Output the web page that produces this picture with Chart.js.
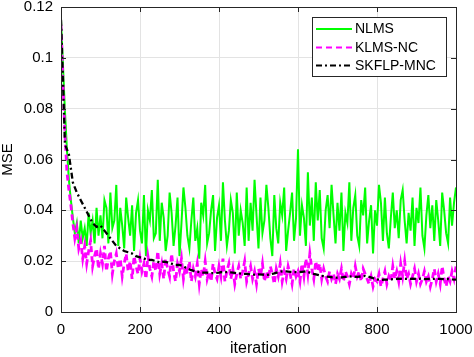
<!DOCTYPE html>
<html><head><meta charset="utf-8">
<script src="https://cdn.jsdelivr.net/npm/chart.js@4"></script>
<style>html,body{margin:0;padding:0;background:#fff}#wrap{width:474px;height:357px;position:relative}</style>
</head><body><div id="wrap"><canvas id="c" width="474" height="357"></canvas></div>
<script>
const seriesNames = ['NLMS', 'KLMS-NC', 'SKFLP-MNC'];
const xTickValues = [0, 200, 400, 600, 800, 1000];
const yTickLabels = ['0', '0.02', '0.04', '0.06', '0.08', '0.1', '0.12'];
const stepNLMS = 5, stepKLMS = 5, stepSKFLP = 10;

const nlms = [
0.115,0.097,0.079,0.064,0.052,0.044,0.037,0.031,0.035,0.027,
0.036,0.029,0.033,0.026,0.039,0.031,0.036,0.027,0.041,0.030,
0.038,0.029,0.044,0.041,0.027,0.047,0.033,0.036,0.050,0.026,
0.041,0.034,0.025,0.045,0.037,0.030,0.042,0.024,0.039,0.044,
0.032,0.027,0.046,0.022,0.040,0.036,0.048,0.029,0.031,0.052,
0.028,0.043,0.037,0.024,0.030,0.047,0.039,0.026,0.034,0.045,
0.022,0.035,0.049,0.041,0.030,0.025,0.036,0.045,0.028,0.033,
0.021,0.043,0.038,0.050,0.027,0.031,0.040,0.046,0.024,0.037,
0.042,0.028,0.051,0.036,0.026,0.032,0.044,0.039,0.023,0.047,
0.030,0.040,0.035,0.026,0.049,0.028,0.043,0.032,0.052,0.038,
0.025,0.045,0.031,0.036,0.050,0.041,0.029,0.022,0.046,0.033,
0.027,0.043,0.038,0.049,0.024,0.032,0.039,0.047,0.028,0.037,
0.064,0.030,0.042,0.037,0.026,0.055,0.034,0.045,0.028,0.051,
0.036,0.048,0.029,0.025,0.040,0.046,0.033,0.050,0.038,0.027,
0.043,0.032,0.047,0.024,0.039,0.035,0.051,0.028,0.041,0.046,
0.030,0.026,0.044,0.038,0.049,0.027,0.036,0.042,0.023,0.040,
0.034,0.050,0.043,0.028,0.045,0.031,0.025,0.037,0.047,0.033,
0.040,0.029,0.044,0.048,0.036,0.027,0.039,0.032,0.045,0.026,
0.041,0.035,0.049,0.030,0.025,0.038,0.046,0.033,0.042,0.028,
0.044,0.036,0.026,0.047,0.040,0.031,0.027,0.045,0.034,0.043,
0.049];

const klmsNC = [
0.113,0.090,0.070,0.055,0.048,0.042,0.035,0.029,0.033,0.025,
0.028,0.021,0.026,0.019,0.024,0.028,0.018,0.022,0.025,0.017,
0.023,0.019,0.026,0.016,0.021,0.024,0.015,0.020,0.023,0.017,
0.021,0.014,0.019,0.023,0.016,0.020,0.013,0.022,0.018,0.015,
0.021,0.016,0.019,0.013,0.022,0.017,0.014,0.020,0.016,0.024,
0.015,0.019,0.013,0.021,0.017,0.014,0.023,0.016,0.012,0.019,
0.016,0.021,0.013,0.018,0.015,0.020,0.012,0.017,0.014,0.019,
0.011,0.017,0.014,0.020,0.013,0.016,0.012,0.019,0.015,0.013,
0.018,0.014,0.021,0.012,0.016,0.019,0.013,0.017,0.011,0.015,
0.018,0.013,0.016,0.020,0.012,0.015,0.018,0.013,0.016,0.011,
0.017,0.014,0.019,0.012,0.016,0.013,0.018,0.015,0.011,0.017,
0.014,0.019,0.012,0.016,0.013,0.018,0.015,0.011,0.017,0.014,
0.016,0.012,0.019,0.014,0.021,0.015,0.023,0.017,0.013,0.020,
0.016,0.019,0.013,0.017,0.014,0.012,0.016,0.013,0.015,0.011,
0.015,0.013,0.017,0.012,0.016,0.014,0.011,0.015,0.013,0.018,
0.014,0.016,0.012,0.017,0.015,0.013,0.011,0.014,0.010,0.013,
0.012,0.015,0.010,0.013,0.016,0.011,0.014,0.012,0.018,0.013,
0.016,0.012,0.019,0.014,0.020,0.013,0.015,0.011,0.014,0.017,
0.012,0.015,0.011,0.013,0.016,0.012,0.014,0.010,0.013,0.017,
0.012,0.015,0.011,0.018,0.013,0.010,0.014,0.012,0.016,0.013,
0.018];

const skflpMNC = [
0.115,0.066,0.062,0.051,0.047,0.044,0.041,0.038,0.035,0.0335,
0.034,0.032,0.030,0.028,0.026,0.025,0.024,0.0235,0.023,0.022,
0.0215,0.021,0.0205,0.0205,0.020,0.0195,0.0198,0.0195,0.019,0.0185,
0.0185,0.018,0.017,0.0165,0.016,0.0157,0.0155,0.0155,0.0153,0.0153,
0.0155,0.0158,0.0157,0.0156,0.0154,0.0152,0.015,0.015,0.0148,0.0147,
0.0148,0.0147,0.0146,0.0148,0.0152,0.0157,0.016,0.016,0.0158,0.0157,
0.0157,0.0158,0.016,0.0155,0.015,0.0146,0.0142,0.014,0.0138,0.0136,
0.0135,0.0136,0.0138,0.014,0.0139,0.0138,0.014,0.0142,0.0138,0.0133,
0.0128,0.0126,0.0127,0.0128,0.0129,0.013,0.0131,0.013,0.013,0.0131,
0.013,0.0131,0.0129,0.013,0.013,0.0131,0.013,0.0129,0.013,0.0128,
0.0127];

const toPts = (arr, step) => arr.map((v, i) => ({x: i * step, y: v}));
const FONT = '"Liberation Sans", Arial, sans-serif';

const styles = [
  {color: '#00ff00', width: 2, dash: []},
  {color: '#ff00ff', width: 2.8, dash: [6, 4]},
  {color: '#000000', width: 2.3, dash: [6, 3, 2, 3]}
];

const boxPlugin = {
  id: 'boxTicks',
  afterDraw(chart) {
    const {ctx, chartArea: a, scales: {x, y}} = chart;
    ctx.save();
    ctx.strokeStyle = '#262626';
    ctx.lineWidth = 1;
    ctx.setLineDash([]);
    ctx.strokeRect(Math.round(a.left) + 0.5, Math.round(a.top) + 0.5, Math.round(a.right - a.left), Math.round(a.bottom - a.top));
    const L = 5;
    ctx.beginPath();
    x.ticks.forEach(t => {
      const px = Math.round(x.getPixelForValue(t.value)) + 0.5;
      ctx.moveTo(px, a.bottom); ctx.lineTo(px, a.bottom - L);
      ctx.moveTo(px, a.top); ctx.lineTo(px, a.top + L);
    });
    y.ticks.forEach(t => {
      const py = Math.round(y.getPixelForValue(t.value)) + 0.5;
      ctx.moveTo(a.left, py); ctx.lineTo(a.left + L, py);
      ctx.moveTo(a.right, py); ctx.lineTo(a.right - L, py);
    });
    ctx.stroke();
    // legend
    const lx = 312.5, ly = 17.5, lw = 134, lh = 59;
    ctx.fillStyle = '#fff';
    ctx.fillRect(lx, ly, lw, lh);
    ctx.strokeStyle = '#262626';
    ctx.strokeRect(lx, ly, lw, lh);
    ctx.font = '14px ' + FONT;
    ctx.textBaseline = 'middle';
    ctx.textAlign = 'left';
    const rows = [29, 47.5, 65.5];
    seriesNames.forEach((n, i) => {
      const s = styles[i];
      ctx.strokeStyle = s.color;
      ctx.lineWidth = 2;
      ctx.setLineDash(s.dash);
      ctx.beginPath();
      ctx.moveTo(316, rows[i]); ctx.lineTo(352, rows[i]);
      ctx.stroke();
      ctx.setLineDash([]);
      ctx.fillStyle = '#000';
      ctx.fillText(n, 355, rows[i] + 0.5);
    });
    ctx.restore();
  }
};

const dataArrays = [toPts(nlms, stepNLMS), toPts(klmsNC, stepKLMS), toPts(skflpMNC, stepSKFLP)];

new Chart(document.getElementById('c'), {
  type: 'line',
  data: {
    datasets: seriesNames.map((n, i) => ({
      label: n,
      data: dataArrays[i],
      borderColor: styles[i].color,
      borderWidth: styles[i].width,
      borderDash: styles[i].dash,
      pointRadius: 0,
      tension: 0,
      fill: false,
      order: 3 - i
    }))
  },
  options: {
    responsive: false,
    animation: false,
    events: [],
    layout: {padding: {left: 0, right: 18, top: 7, bottom: 0}},
    plugins: {legend: {display: false}, tooltip: {enabled: false}},
    scales: {
      x: {
        type: 'linear', min: 0, max: 1000,
        afterBuildTicks: s => { s.ticks = xTickValues.map(v => ({value: v})); },
        afterFit: s => { s.height = 45; s.paddingLeft = 0; s.paddingRight = 0; },
        ticks: {color: '#000', font: {family: FONT, size: 15}, padding: 9, maxRotation: 0,
                callback: v => String(v)},
        grid: {color: '#e3e3e3', lineWidth: 1, drawTicks: false},
        border: {display: false},
        title: {display: true, text: 'iteration', color: '#000', font: {family: FONT, size: 16, lineHeight: 1}, padding: 0}
      },
      y: {
        type: 'linear', min: 0, max: 0.12,
        afterBuildTicks: s => { s.ticks = yTickLabels.map((l, i) => ({value: i * 0.02})); },
        afterFit: s => { s.width = 61; s.paddingTop = 0; s.paddingBottom = 0; },
        ticks: {color: '#000', font: {family: FONT, size: 15}, padding: 8,
                callback: (v, i) => yTickLabels[i]},
        grid: {color: '#e3e3e3', lineWidth: 1, drawTicks: false},
        border: {display: false},
        title: {display: true, text: 'MSE', color: '#000', font: {family: FONT, size: 15, lineHeight: 1}, padding: 0}
      }
    }
  },
  plugins: [boxPlugin]
});
</script></body></html>
